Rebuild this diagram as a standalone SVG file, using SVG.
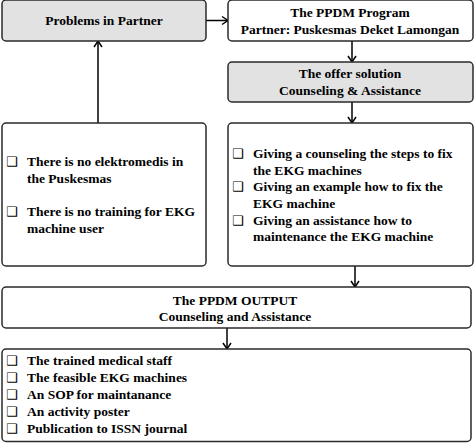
<svg xmlns="http://www.w3.org/2000/svg" width="474" height="443" viewBox="0 0 474 443">
<style>
.box{fill:#fff;stroke:#2a2a2a;stroke-width:1.5}
.gray{fill:#e2e2e2}
.t{font-family:"Liberation Serif","Times New Roman",serif;font-weight:bold;font-size:13.5px;fill:#000}
.c{text-anchor:middle}
.b{font-family:"DejaVu Sans",sans-serif;font-size:13px;fill:#000}
.con{stroke:#000;stroke-width:1.5;fill:none;marker-end:url(#ah)}
</style>
<defs>
<marker id="ah" markerWidth="12" markerHeight="12" refX="9" refY="6" orient="auto" markerUnits="userSpaceOnUse">
<path d="M3,2 L9,6 L3,10" fill="none" stroke="#000" stroke-width="1.5"/>
</marker>
</defs>
<g id="connectors">
<line class="con" x1="206" y1="20.5" x2="228" y2="20.5"/>
<line class="con" x1="352" y1="41" x2="352" y2="62"/>
<line class="con" x1="98" y1="123" x2="98" y2="41"/>
<line class="con" x1="352" y1="102" x2="352" y2="123"/>
<line class="con" x1="355" y1="266" x2="355" y2="287"/>
<line class="con" x1="227" y1="328" x2="227" y2="349"/>
</g>
<g id="problems">
<rect class="box gray" x="2" y="0" width="204" height="41" rx="4"/>
<text class="t c" x="104" y="25">Problems in Partner</text>
</g>
<g id="program">
<rect class="box" x="228" y="0" width="245" height="41" rx="4"/>
<text class="t c" x="350" y="17">The PPDM Program</text>
<text class="t c" x="350" y="34">Partner: Puskesmas Deket Lamongan</text>
</g>
<g id="solution">
<rect class="box gray" x="228" y="62" width="245" height="40" rx="4"/>
<text class="t c" x="350" y="78">The offer solution</text>
<text class="t c" x="350" y="95">Counseling &amp; Assistance</text>
</g>
<g id="problem-list">
<rect class="box" x="2" y="123" width="204" height="143" rx="4"/>
<text class="b" x="6" y="166">❑</text>
<text class="t" x="27" y="166">There is no elektromedis in</text>
<text class="t" x="27" y="183">the Puskesmas</text>
<text class="b" x="6" y="216">❑</text>
<text class="t" x="27" y="216">There is no training for EKG</text>
<text class="t" x="27" y="233">machine user</text>
</g>
<g id="solution-list">
<rect class="box" x="228" y="123" width="245" height="143" rx="4"/>
<text class="b" x="232" y="158">❑</text>
<text class="t" x="253" y="158">Giving a counseling the steps to fix</text>
<text class="t" x="253" y="174.5">the EKG machines</text>
<text class="b" x="232" y="191">❑</text>
<text class="t" x="253" y="191">Giving an example how to fix the</text>
<text class="t" x="253" y="208">EKG machine</text>
<text class="b" x="232" y="224.5">❑</text>
<text class="t" x="253" y="224.5">Giving an assistance how to</text>
<text class="t" x="253" y="241">maintenance the EKG machine</text>
</g>
<g id="output">
<rect class="box" x="2" y="287" width="469" height="41" rx="4"/>
<text class="t c" x="235" y="304.5">The PPDM OUTPUT</text>
<text class="t c" x="235" y="320.5">Counseling and Assistance</text>
</g>
<g id="output-list">
<rect class="box" x="2" y="349" width="469" height="92.5" rx="4"/>
<text class="b" x="6" y="365">❑</text>
<text class="t" x="27" y="365">The trained medical staff</text>
<text class="b" x="6" y="382">❑</text>
<text class="t" x="27" y="382">The feasible EKG machines</text>
<text class="b" x="6" y="399">❑</text>
<text class="t" x="27" y="399">An SOP for maintanance</text>
<text class="b" x="6" y="416">❑</text>
<text class="t" x="27" y="416">An activity poster</text>
<text class="b" x="6" y="433">❑</text>
<text class="t" x="27" y="433">Publication to ISSN journal</text>
</g>
</svg>
